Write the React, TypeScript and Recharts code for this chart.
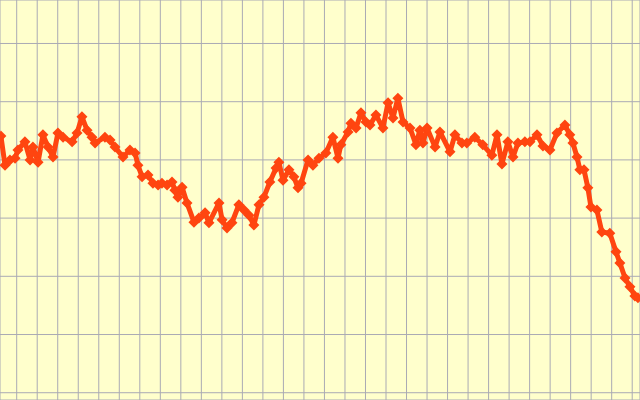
import React from "react";
import { LineChart, Line, XAxis, YAxis, CartesianGrid } from "recharts";

const tValues = [
  -7.7, -5.7, -3.3, -0.8, 0.6, 4.0, 6.5, 7.9, 10.4, 12.8,
  15.3, 17.7, 20.1, 22.6, 27.0, 29.4, 31.8, 34.3, 36.7, 38.2,
  43.0, 45.5, 47.9, 51.8, 55.2, 57.7, 59.1, 61.1, 64.0, 66.4,
  68.9, 70.8, 73.3, 75.7, 77.1, 78.6, 80.6, 83.0, 86.4, 88.8,
  91.8, 93.7, 98.6, 100.1, 102.5, 104.9, 108.3, 110.8, 113.2, 115.6,
  118.1, 120.5, 123.4, 126.4, 127.8, 129.8, 132.7, 135.1, 137.1, 138.6,
  142.0, 144.4, 147.3, 150.7, 154.1, 156.6, 158.0, 161.5, 162.9, 165.4,
  167.8, 170.2, 172.2, 175.1, 178.5, 181.0, 183.4, 185.8, 188.3, 191.7,
  194.6, 196.5, 198.0, 200.0, 203.9, 206.3, 211.2, 213.6, 217.0, 219.4,
  223.3, 227.2, 231.6, 234.1, 236.5, 239.4, 241.9, 244.3, 247.7, 250.2,
  253.6, 256.5, 259.9, 263.3, 267.2, 269.6, 271.1, 273.1, 274.5, 276.5,
  278.4, 279.9, 282.8, 285.2, 289.1, 292.1, 294.0, 296.5, 298.9, 301.3,
  302.8,
];

const values = [
  44.1, 39.1, 40.0, 40.3, 41.7, 43.1, 40.0, 42.2, 39.6, 44.3,
  42.2, 40.5, 44.6, 43.9, 43.1, 44.6, 47.4, 45.1, 43.9, 42.9,
  43.9, 43.4, 42.2, 40.5, 41.7, 41.2, 39.1, 37.1, 37.4, 36.0,
  35.7, 36.0, 35.7, 36.2, 34.8, 33.6, 35.3, 32.6, 29.3, 30.0,
  30.9, 29.2, 32.6, 29.7, 28.3, 29.2, 32.3, 31.4, 30.5, 28.8,
  32.3, 33.6, 36.2, 38.6, 39.6, 36.5, 38.3, 37.1, 35.2, 36.0,
  40.0, 39.1, 40.3, 41.2, 43.9, 40.3, 42.6, 44.8, 46.3, 45.5,
  48.1, 46.5, 46.0, 47.7, 45.5, 49.8, 47.2, 50.6, 46.5, 45.5,
  42.6, 45.1, 42.9, 45.5, 42.2, 44.8, 41.4, 44.3, 42.9, 42.9,
  43.9, 42.6, 40.8, 44.3, 39.3, 43.1, 40.5, 42.9, 43.1, 43.1,
  44.3, 42.4, 41.7, 44.6, 46.0, 44.3, 42.9, 40.5, 38.3, 38.3,
  35.2, 31.9, 31.4, 27.6, 27.4, 24.2, 22.3, 19.7, 18.2, 16.6,
  16.3,
];

const xTicks = [0, 10, 20, 30, 40, 50, 60, 70, 80, 90, 100, 110, 120, 130, 140, 150, 160, 170, 180, 190, 200, 210, 220, 230, 240, 250, 260, 270, 280, 290, 300];
const yTicks = [0, 10, 20, 30, 40, 50, 60];

const data = tValues.map((t, i) => ({ t, v: values[i] }));

const LINE_COLOR = "#FF4510";

const Diamond = (props: any) => {
  const { cx, cy, index } = props;
  if (cx == null || cy == null) return <g key={`d-${index}`} />;
  const r = 5.5;
  return (
    <path
      key={`d-${index}`}
      d={`M${cx},${cy - r}L${cx + r},${cy}L${cx},${cy + r}L${cx - r},${cy}Z`}
      fill={LINE_COLOR}
      stroke="none"
    />
  );
};

export default function App() {
  return (
    <div
      style={{
        position: "absolute",
        left: 0,
        top: 0,
        width: 640,
        height: 400,
        background: "#FFFFCC",
        overflow: "hidden",
      }}
    >
      <LineChart width={640} height={400} data={data} margin={{ top: 0, right: 0, bottom: 0, left: 0 }}>
        <CartesianGrid stroke="#AAAAB4" strokeWidth={1} fill="#FFFFCC" />
        <XAxis
          type="number"
          dataKey="t"
          domain={[-8.14, 303.8]}
          ticks={xTicks}
          interval={0}
          allowDataOverflow
          hide
        />
        <YAxis type="number" domain={[-1.25, 67.47]} ticks={yTicks} interval={0} allowDataOverflow hide />
        <Line
          type="linear"
          dataKey="v"
          stroke={LINE_COLOR}
          strokeWidth={5}
          strokeLinejoin="round"
          dot={Diamond}
          activeDot={false}
          isAnimationActive={false}
        />
      </LineChart>
    </div>
  );
}
